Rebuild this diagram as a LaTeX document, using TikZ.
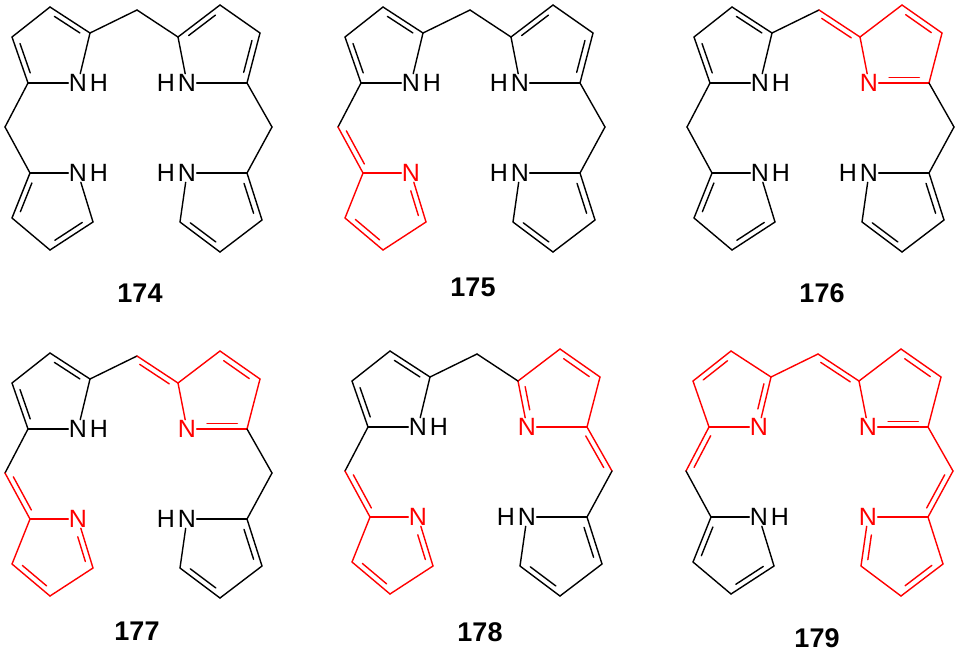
\documentclass[tikz,border=0pt]{standalone}
\usepackage{fontspec}
\setmainfont{Liberation Sans}
\usetikzlibrary{calc}
\tikzset{bond/.style={line width=1.4pt,line cap=round,line join=round},
 atom/.style={inner sep=0.5pt,font=\fontsize{25}{25}\selectfont},
 lab/.style={font=\fontsize{27}{27}\selectfont\bfseries}}
\newcommand\sbd[3]{\draw[bond,#3] (#1) -- (#2);}
\newcommand\db[6]{%
 \draw[bond,#6] (#1) -- (#2);
 \coordinate (tu) at ($(#3)!0.84!(#1)$);
 \coordinate (tv) at ($(#3)!0.84!(#2)$);
 \draw[bond,#6] ($(tu)!#4!(tv)$) -- ($(tv)!#5!(tu)$);}
\newcommand\exo[4]{%
 \draw[bond,#4] (#1) -- (#2);
 \coordinate (ea) at ($(#1)!0.14!(#2)$);
 \coordinate (eb) at ($(#1)!0.86!(#2)$);
 \draw[bond,#4] ($(ea)!5.5pt!#3:(#2)$) -- ($(eb)!5.5pt!#3:(#2)$);}
\newcommand\ringH[7]{%
 \sbd{#1}{#5}{#7}\sbd{#5}{#2}{#7}\sbd{#4}{#3}{#7}
 \db{#1}{#3}{#6}{0.12}{0.12}{#7}\db{#2}{#4}{#6}{0.12}{0.12}{#7}}
\newcommand\ringI[7]{%
 \sbd{#1}{#5}{#7}\sbd{#1}{#3}{#7}\sbd{#2}{#4}{#7}
 \db{#5}{#2}{#6}{0.3}{0.1}{#7}\db{#3}{#4}{#6}{0.12}{0.12}{#7}}
\newcommand\Nat[5]{%
 \node[atom,text=#5] (#1) at (#2,#3) {N};
 \ifnum#4=1 \node[atom,text=#5] at (#2+21,#3) {H};\fi
 \ifnum#4=-1 \node[atom,text=#5] at (#2-21,#3) {H};\fi}
\newcommand\skel{%
 \coordinate (a1) at (90,33); \coordinate (a2) at (50,7); \coordinate (a3) at (12,37); \coordinate (a4) at (28,83);
 \coordinate (b1) at (178,37); \coordinate (b2) at (220,5); \coordinate (b3) at (260,33); \coordinate (b4) at (247,83);
 \coordinate (c1) at (30,173); \coordinate (c2) at (12,218); \coordinate (c3) at (50,250); \coordinate (c4) at (93,222);
 \coordinate (d1) at (247,173); \coordinate (d2) at (262,220); \coordinate (d3) at (220,252); \coordinate (d4) at (180,222);
 \coordinate (m1) at (137,10); \coordinate (m2) at (5,127); \coordinate (m3) at (272,127);
 \coordinate (cA) at (52,49); \coordinate (cB) at (218,48); \coordinate (cC) at (53,207); \coordinate (cD) at (219,208);}
\begin{document}
\begin{tikzpicture}[x=1pt,y=-1pt]
\useasboundingbox (0,0) rectangle (960,649);
% 174
\begin{scope}[shift={(0,0)}]
\skel
\Nat{aN}{78}{83}{1}{black}\Nat{bN}{187}{83}{-1}{black}\Nat{cN}{78}{173}{1}{black}\Nat{dN}{187}{173}{-1}{black}
\ringH{a1}{a4}{a2}{a3}{aN}{cA}{black}
\ringH{b1}{b4}{b2}{b3}{bN}{cB}{black}
\ringH{c1}{c4}{c2}{c3}{cN}{cC}{black}
\ringH{d1}{d4}{d2}{d3}{dN}{cD}{black}
\sbd{a1}{m1}{black}\sbd{m1}{b1}{black}\sbd{a4}{m2}{black}\sbd{m2}{c1}{black}\sbd{b4}{m3}{black}\sbd{m3}{d1}{black}
\node[lab] (l174) at (140,293) {174};
\end{scope}
% 175
\begin{scope}[shift={(333,0)}]
\skel
\Nat{aN}{78}{83}{1}{black}\Nat{bN}{187}{83}{-1}{black}\Nat{cN}{78}{173}{0}{red}\Nat{dN}{187}{173}{-1}{black}
\ringH{a1}{a4}{a2}{a3}{aN}{cA}{black}
\ringH{b1}{b4}{b2}{b3}{bN}{cB}{black}
\ringI{c1}{c4}{c2}{c3}{cN}{cC}{red}
\ringH{d1}{d4}{d2}{d3}{dN}{cD}{black}
\sbd{a1}{m1}{black}\sbd{m1}{b1}{black}\sbd{a4}{m2}{black}\exo{m2}{c1}{90}{red}\sbd{b4}{m3}{black}\sbd{m3}{d1}{black}
\node[lab] (l175) at (140,287) {175};
\end{scope}
% 176
\begin{scope}[shift={(682,0)}]
\skel
\Nat{aN}{78}{83}{1}{black}\Nat{bN}{187}{83}{0}{red}\Nat{cN}{78}{173}{1}{black}\Nat{dN}{187}{173}{-1}{black}
\ringH{a1}{a4}{a2}{a3}{aN}{cA}{black}
\ringI{b1}{b4}{b2}{b3}{bN}{cB}{red}
\ringH{c1}{c4}{c2}{c3}{cN}{cC}{black}
\ringH{d1}{d4}{d2}{d3}{dN}{cD}{black}
\sbd{a1}{m1}{black}\exo{m1}{b1}{-90}{red}\sbd{a4}{m2}{black}\sbd{m2}{c1}{black}\sbd{b4}{m3}{black}\sbd{m3}{d1}{black}
\node[lab] (l176) at (140,293) {176};
\end{scope}
% 177
\begin{scope}[shift={(0,346)}]
\skel
\Nat{aN}{78}{83}{1}{black}\Nat{bN}{187}{83}{0}{red}\Nat{cN}{78}{173}{0}{red}\Nat{dN}{187}{173}{-1}{black}
\ringH{a1}{a4}{a2}{a3}{aN}{cA}{black}
\ringI{b1}{b4}{b2}{b3}{bN}{cB}{red}
\ringI{c1}{c4}{c2}{c3}{cN}{cC}{red}
\ringH{d1}{d4}{d2}{d3}{dN}{cD}{black}
\sbd{a1}{m1}{black}\exo{m1}{b1}{-90}{red}\sbd{a4}{m2}{black}\exo{m2}{c1}{90}{red}\sbd{b4}{m3}{black}\sbd{m3}{d1}{black}
\node[lab] (l177) at (137,285) {177};
\end{scope}
% 178
\begin{scope}[shift={(340,344)}]
\skel
\Nat{aN}{78}{83}{1}{black}\Nat{bN}{187}{83}{0}{red}\Nat{cN}{78}{173}{0}{red}\Nat{dN}{187}{173}{-1}{black}
\ringH{a1}{a4}{a2}{a3}{aN}{cA}{black}
\ringI{b4}{b1}{b3}{b2}{bN}{cB}{red}
\ringI{c1}{c4}{c2}{c3}{cN}{cC}{red}
\ringH{d1}{d4}{d2}{d3}{dN}{cD}{black}
\sbd{a1}{m1}{black}\sbd{m1}{b1}{black}\sbd{a4}{m2}{black}\exo{m2}{c1}{90}{red}\exo{m3}{b4}{90}{red}\sbd{m3}{d1}{black}
\node[lab] (l178) at (140,288) {178};
\end{scope}
% 179
\begin{scope}[shift={(681,344)}]
\skel
\Nat{aN}{78}{83}{0}{red}\Nat{bN}{187}{83}{0}{red}\Nat{cN}{78}{173}{1}{black}\Nat{dN}{187}{173}{0}{red}
\ringI{a4}{a1}{a3}{a2}{aN}{cA}{red}
\ringI{b1}{b4}{b2}{b3}{bN}{cB}{red}
\ringH{c1}{c4}{c2}{c3}{cN}{cC}{black}
\ringI{d1}{d4}{d2}{d3}{dN}{cD}{red}
\sbd{a1}{m1}{red}\exo{m1}{b1}{-90}{red}\exo{m2}{a4}{-90}{red}\sbd{m2}{c1}{black}\sbd{b4}{m3}{red}\exo{m3}{d1}{-90}{red}
\node[lab] (l179) at (136,294) {179};
\end{scope}
\end{tikzpicture}
\end{document}
